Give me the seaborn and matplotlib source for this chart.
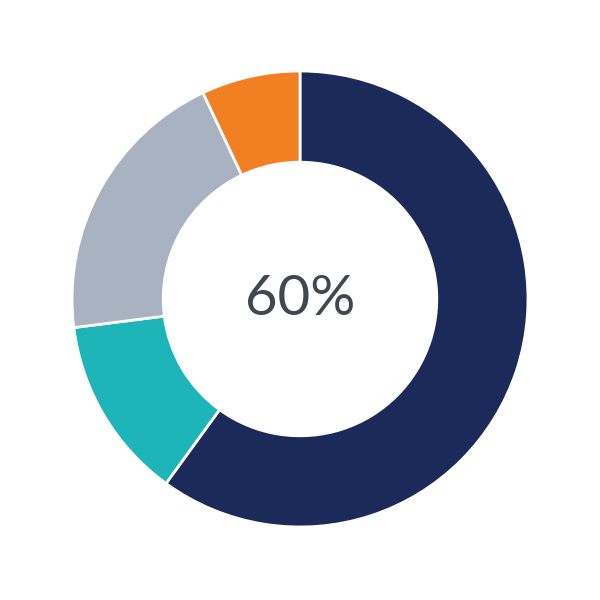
import seaborn as sns
import matplotlib.pyplot as plt

# donut values, clockwise from 12 o'clock
labels = ['Navy', 'Teal', 'Gray', 'Orange']
shares = [60, 13, 20, 7]
colors = ['#1c2a5a', '#1db5b7', '#a8b2c1', '#f27f22']
center_label = '60%'

sns.set_theme(style='white')
plt.rcParams['font.family'] = ['Lato', 'DejaVu Sans']

fig = plt.figure(figsize=(6, 6), dpi=100)
ax = fig.add_axes([0, 0, 1, 1])

ax.pie(shares, colors=colors, startangle=90, counterclock=False, radius=1,
       wedgeprops=dict(width=0.4, edgecolor='white', linewidth=2))

ax.text(0, 0.0, center_label, ha='center', va='center', fontsize=40.5,
        fontweight='normal', color='#3d4850')

ax.set_xlim(-300 / 228, 300 / 228)
ax.set_ylim(-301 / 228, 299 / 228)
ax.set_aspect('auto')
ax.axis('off')

fig.savefig('out.png', dpi=100, facecolor='white')
